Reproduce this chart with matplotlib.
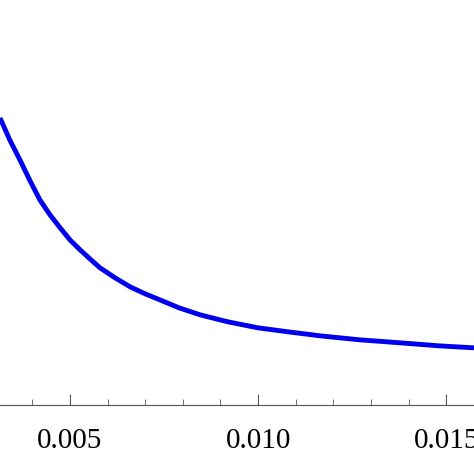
import matplotlib; matplotlib.use("Agg")
import matplotlib.pyplot as plt
from matplotlib.ticker import MultipleLocator

# values (y in arbitrary units above the axis)
x_vals = [0.00314, 0.00340, 0.00367, 0.00394, 0.00420, 0.00447, 0.00474, 0.00500,
          0.00527, 0.00553, 0.00580, 0.00620, 0.00660, 0.00700, 0.00739, 0.00790,
          0.00846, 0.00920, 0.0100, 0.01080, 0.01165, 0.01270, 0.01378, 0.01480, 0.01574]
y_vals = [287, 265, 245, 224, 205, 190, 177, 165, 155, 146, 137, 127, 118, 111, 105, 97,
          90, 83, 77, 73, 69, 65, 62, 59, 57]
x_ticks = [0.005, 0.010, 0.015]
x_labels = ["0.005", "0.010", "0.015"]

plt.rcParams['font.family'] = ['Liberation Serif', 'DejaVu Serif']
fig = plt.figure(figsize=(4.74, 4.74), dpi=100)
ax = fig.add_axes([0, 0.146, 1, 0.854])
ax.plot(x_vals, y_vals, color="#0000ee", lw=3.5, solid_capstyle="butt")
ax.set_xlim(0.00314, 0.01574); ax.set_ylim(0, 405)
for s in ["top", "right", "left"]: ax.spines[s].set_visible(False)
ax.spines["bottom"].set_color("#555555")
ax.set_yticks([])
ax.set_xticks(x_ticks); ax.set_xticklabels(x_labels, fontsize=21)
ax.xaxis.set_minor_locator(MultipleLocator(0.001))
ax.tick_params(axis="x", which="major", direction="in", length=8, color="#555555", pad=17)
ax.tick_params(axis="x", which="minor", direction="in", length=4, color="#555555")
fig.savefig("out.png", dpi=100)
